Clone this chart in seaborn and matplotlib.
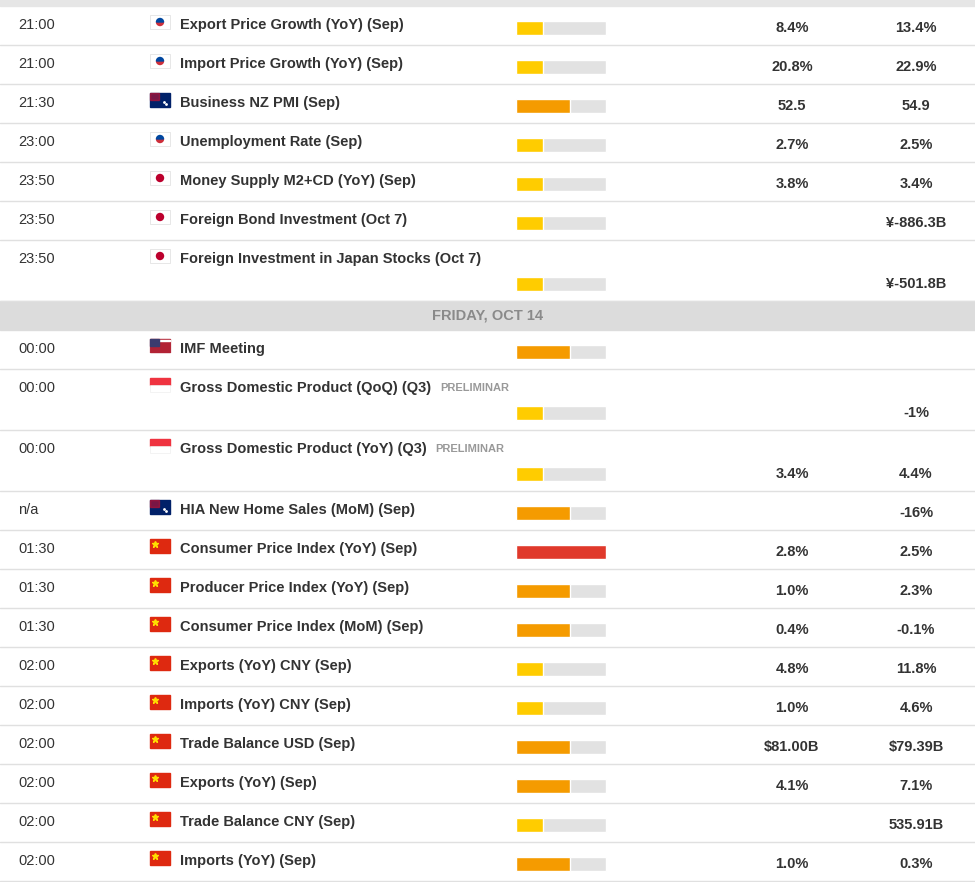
import matplotlib
matplotlib.use("Agg")
import matplotlib.pyplot as plt
import matplotlib.patches as mp
import seaborn as sns
import pandas as pd

sns.set_theme(style="white")
plt.rcParams['font.family'] = ['Liberation Sans', 'DejaVu Sans']

times = ["21:00","21:00","21:30","23:00","23:50","23:50","23:50",
         "00:00","00:00","00:00","n/a","01:30","01:30","01:30","02:00","02:00","02:00","02:00","02:00","02:00"]
countries = ["KR","KR","NZ","KR","JP","JP","JP","US","SG","SG","AU","CN","CN","CN","CN","CN","CN","CN","CN","CN"]
events = ["Export Price Growth (YoY) (Sep)","Import Price Growth (YoY) (Sep)","Business NZ PMI (Sep)",
          "Unemployment Rate (Sep)","Money Supply M2+CD (YoY) (Sep)","Foreign Bond Investment (Oct 7)",
          "Foreign Investment in Japan Stocks (Oct 7)","IMF Meeting","Gross Domestic Product (QoQ) (Q3)",
          "Gross Domestic Product (YoY) (Q3)","HIA New Home Sales (MoM) (Sep)","Consumer Price Index (YoY) (Sep)",
          "Producer Price Index (YoY) (Sep)","Consumer Price Index (MoM) (Sep)","Exports (YoY) CNY (Sep)",
          "Imports (YoY) CNY (Sep)","Trade Balance USD (Sep)","Exports (YoY) (Sep)","Trade Balance CNY (Sep)",
          "Imports (YoY) (Sep)"]
tags = ["","","","","","","","","PRELIMINAR","PRELIMINAR","","","","","","","","","",""]
importance = [1,1,2,1,1,1,1,2,1,1,2,3,2,2,1,1,2,2,1,2]
consensus = ["8.4%","20.8%","52.5","2.7%","3.8%","","","","","3.4%","","2.8%","1.0%","0.4%","4.8%","1.0%","$81.00B","4.1%","","1.0%"]
previous = ["13.4%","22.9%","54.9","2.5%","3.4%","¥-886.3B","¥-501.8B","","-1%","4.4%","-16%","2.5%","2.3%","-0.1%",
            "11.8%","4.6%","$79.39B","7.1%","535.91B","0.3%"]
two_line = [False]*6 + [True] + [False, True, True] + [False]*10
day_header = "FRIDAY, OCT 14"

W, H = 975, 882
fig = plt.figure(figsize=(W/100, H/100), dpi=100)
ax = fig.add_axes([0, 0, 1, 1])
ax.set_xlim(0, W); ax.set_ylim(H, 0); ax.axis("off")

# layout
ax.add_patch(mp.Rectangle((0, 0), W, 6, color="#e6e6e6"))
y = 6
rows = []
for i in range(len(events)):
    if i == 7:
        ax.add_patch(mp.Rectangle((0, y), W, 29, color="#dcdcdc"))
        ax.text(W/2, y+14.5, day_header, ha="center", va="center", fontsize=10.5,
                fontweight="bold", color="#8a8a8a")
        y += 29
    h = 61 if two_line[i] else 39
    rows.append((y, h))
    y += h
    ax.plot([0, W], [y, y], color="#e0e0e0", lw=1)

colors = {1: "#FFCC00", 2: "#F59B00", 3: "#E0392B"}
txt = dict(fontsize=10.5, color="#333333", va="center")

def flag(c, x, yc):
    w, h = 20, 14
    y0 = yc - h/2
    if c == "KR":
        ax.add_patch(mp.Rectangle((x, y0), w, h, fc="white", ec="#ddd", lw=.5))
        ax.add_patch(mp.Wedge((x+10, yc), 3.5, 0, 180, color="#cd2e3a"))
        ax.add_patch(mp.Wedge((x+10, yc), 3.5, 180, 360, color="#0047a0"))
    elif c == "JP":
        ax.add_patch(mp.Rectangle((x, y0), w, h, fc="white", ec="#ddd", lw=.5))
        ax.add_patch(mp.Circle((x+10, yc), 3.5, color="#bc002d"))
    elif c in ("NZ", "AU"):
        ax.add_patch(mp.Rectangle((x, y0), w, h, color="#012169"))
        ax.add_patch(mp.Rectangle((x, y0), 9, 7, color="#c8102e", alpha=.6))
        ax.plot([x+14, x+16], [yc+2, yc+4], "w.", ms=2)
    elif c == "US":
        for k in range(7):
            ax.add_patch(mp.Rectangle((x, y0+k*2), w, 1, color="#b22234"))
        ax.add_patch(mp.Rectangle((x, y0+1), w, 1, color="white"))
        ax.add_patch(mp.Rectangle((x, y0), 9, 7, color="#3c3b6e"))
    elif c == "SG":
        ax.add_patch(mp.Rectangle((x, y0), w, h/2, color="#ef3340"))
        ax.add_patch(mp.Rectangle((x, yc), w, h/2, fc="white", ec="#eee", lw=.5))
    elif c == "CN":
        ax.add_patch(mp.Rectangle((x, y0), w, h, color="#de2910"))
        ax.plot([x+5], [yc-2], marker="*", color="#ffde00", ms=5)

for i, (y0, h) in enumerate(rows):
    ty = y0 + 19
    vy = y0 + h - 17 if two_line[i] else ty + 3
    ax.text(18, ty, times[i], **txt)
    flag(countries[i], 150, ty - 3)
    t = ax.text(180, ty, events[i], fontweight="bold", **txt)
    if tags[i]:
        fig.canvas.draw() if i == 8 else None
        ext = t.get_window_extent(renderer=fig.canvas.get_renderer())
        ax.text(ext.x1 + 9, ty, tags[i], fontsize=8, fontweight="bold", color="#999999", va="center")
    by = vy
    ax.barh(by, 90, left=516, height=14, color="#e2e2e2")
    ax.barh(by, [0, 27, 54, 90][importance[i]], left=516, height=14, color=colors[importance[i]])
    ax.text(792, vy, consensus[i], ha="center", fontweight="bold", **txt)
    ax.text(916, vy, previous[i], ha="center", fontweight="bold", **txt)

fig.savefig("out.png", dpi=100)
